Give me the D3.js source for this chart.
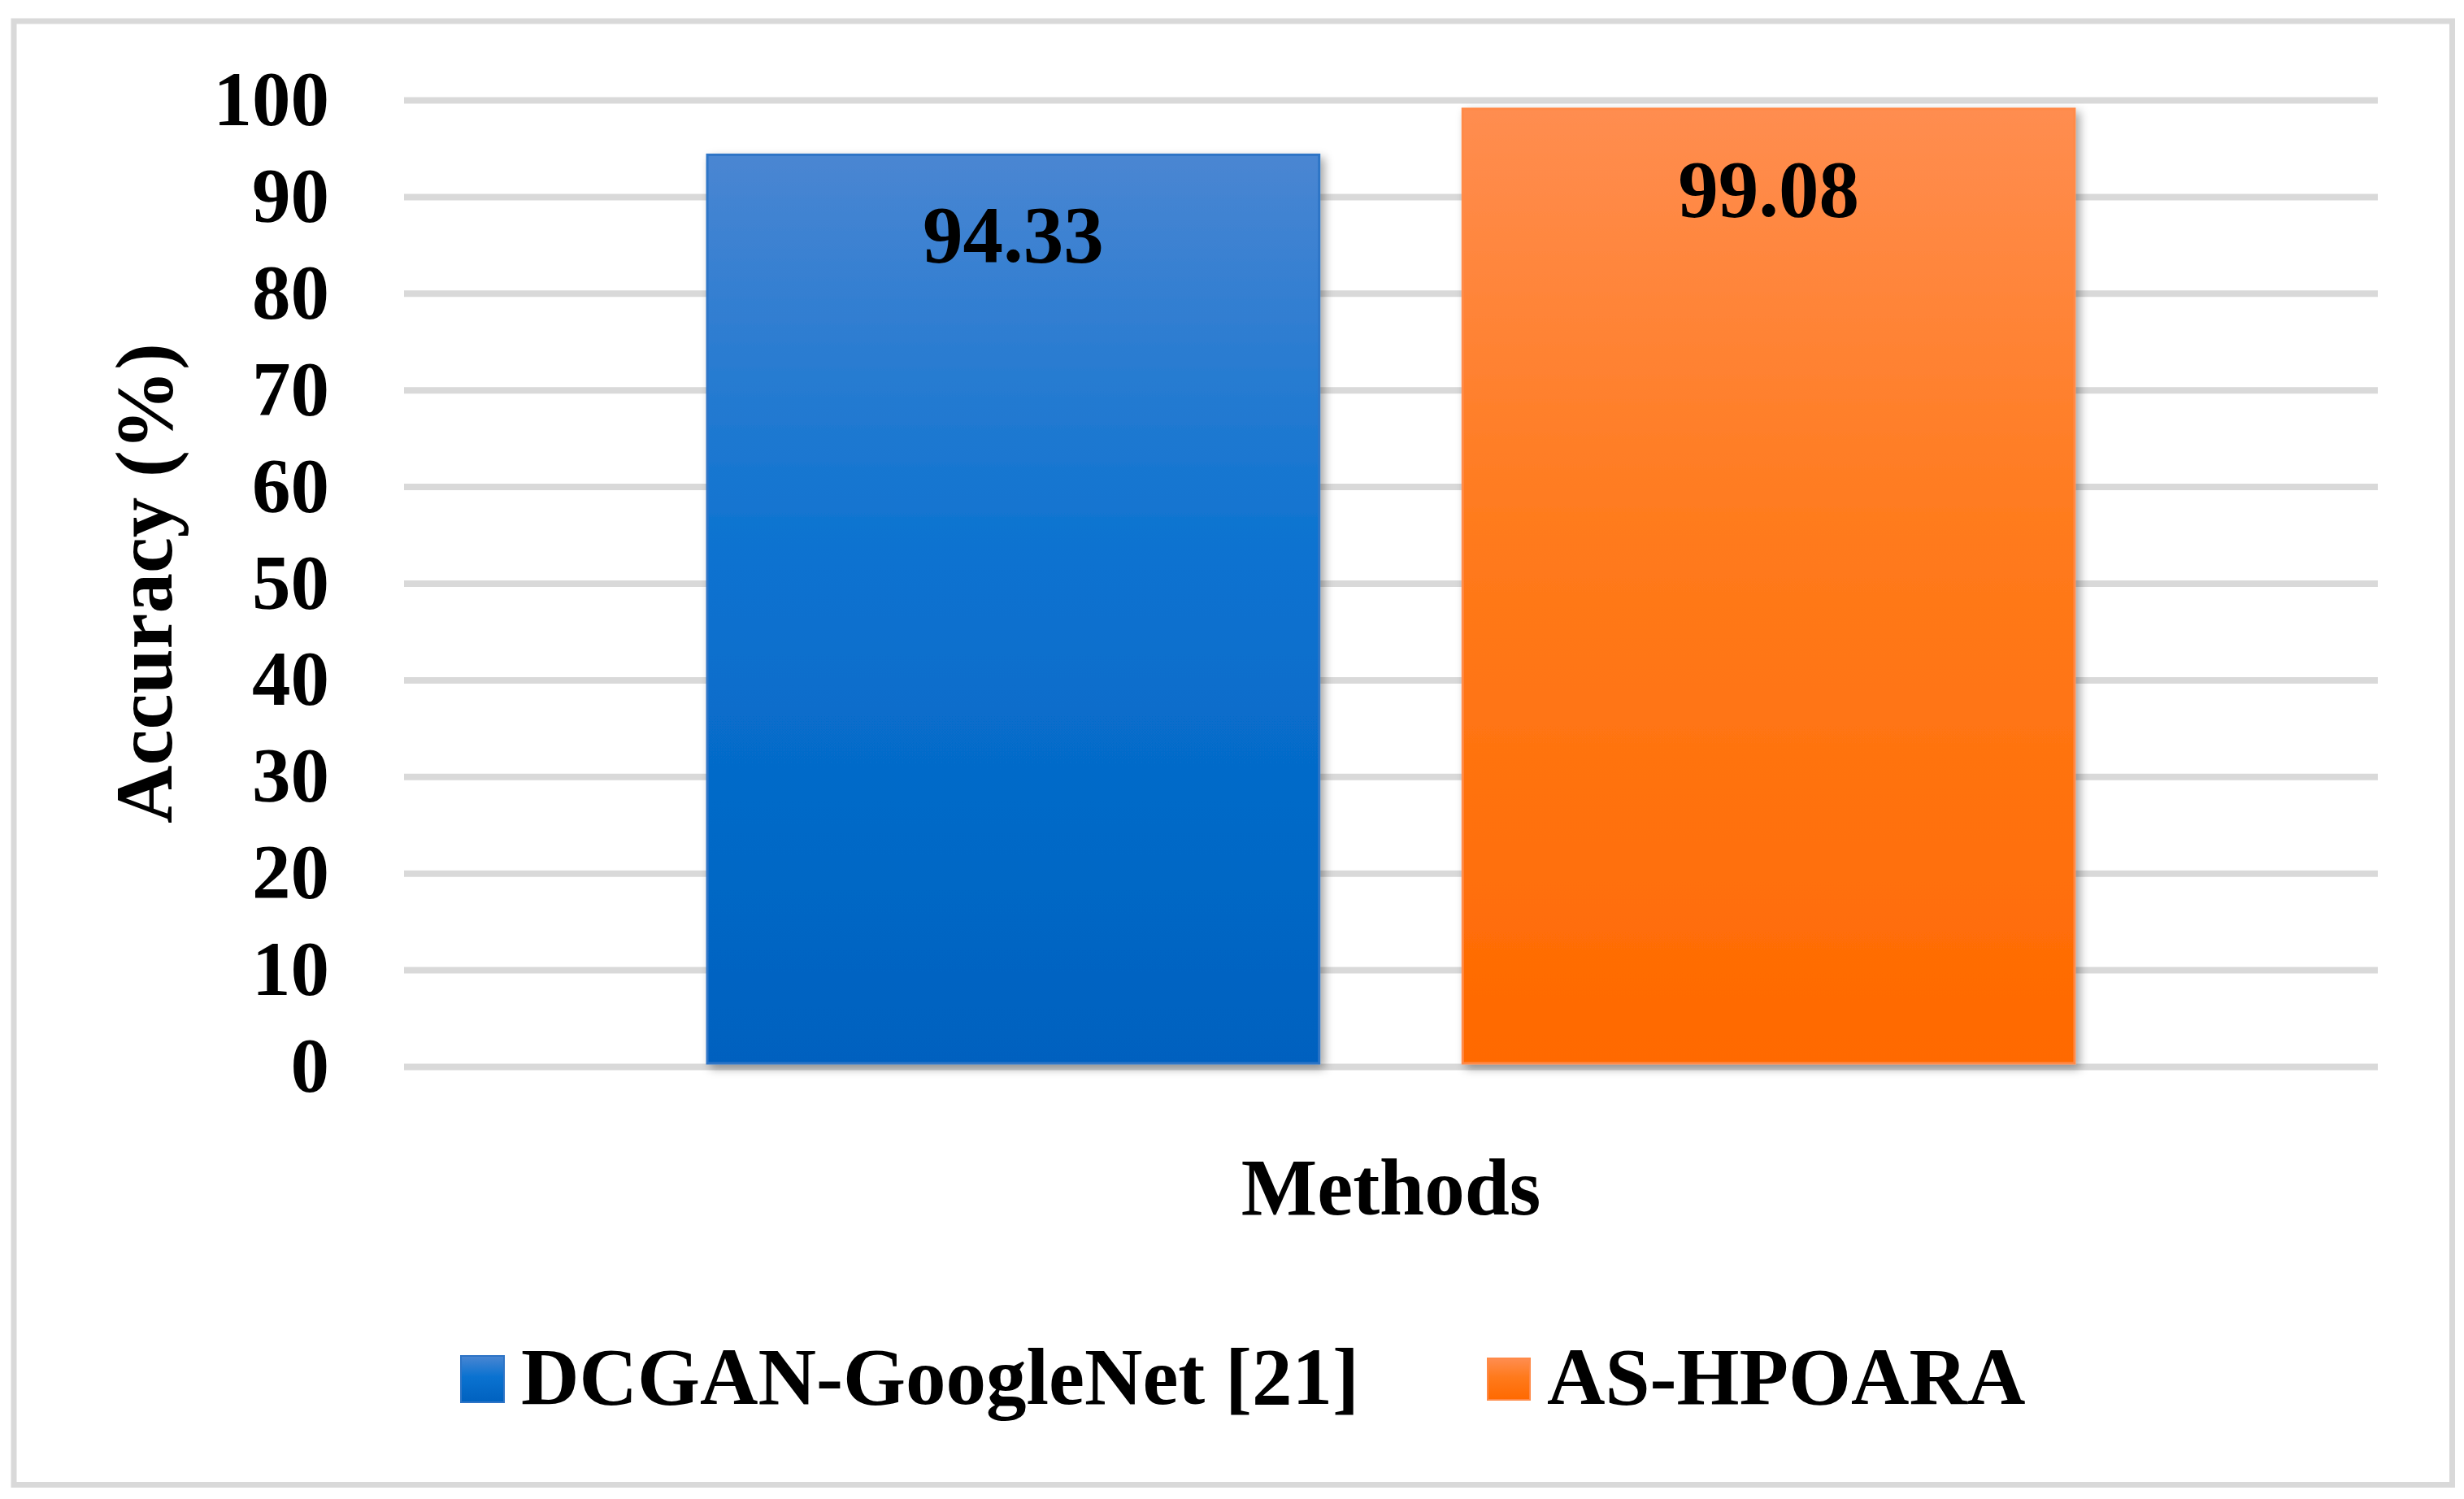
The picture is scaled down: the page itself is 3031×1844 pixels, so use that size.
<!DOCTYPE html>
<html>
<head>
<meta charset="utf-8">
<script src="https://cdn.jsdelivr.net/npm/d3@7"></script>
<style>
  html, body { margin: 0; padding: 0; background: #ffffff; }
  svg { display: block; }
  text { font-family: "Liberation Serif", "Times New Roman", serif; font-weight: bold; fill: #000; }
</style>
</head>
<body>
<svg id="chart" width="3031" height="1844"></svg>
<script>
// ---- data ----
const categories = ["Methods"];
const seriesNames = ["DCGAN-GoogleNet [21]", "AS-HPOARA"];
const seriesValues = [94.33, 99.08];
const valueLabels = ["94.33", "99.08"];
const yTicks = [0, 10, 20, 30, 40, 50, 60, 70, 80, 90, 100];
const yTitle = "Accuracy (%)";
const xTitle = "Methods";

const svg = d3.select("#chart");
const W = 3031, H = 1844;
const plot = { left: 497, right: 2925, top: 123, bottom: 1312 };

// defs: gradients + shadow
const defs = svg.append("defs");
const grads = [
  { id: "gBlue", stops: [["0%", "#4a86d2"], ["45%", "#0a72d0"], ["100%", "#0061bf"]] },
  { id: "gOrange", stops: [["0%", "#ff8d50"], ["45%", "#ff7a1c"], ["100%", "#ff6900"]] }
];
grads.forEach(g => {
  const lg = defs.append("linearGradient").attr("id", g.id)
    .attr("x1", 0).attr("y1", 0).attr("x2", 0).attr("y2", 1);
  g.stops.forEach(s => lg.append("stop").attr("offset", s[0]).attr("stop-color", s[1]));
});
const f = defs.append("filter").attr("id", "shadow")
  .attr("x", "-10%").attr("y", "-10%").attr("width", "120%").attr("height", "120%");
f.append("feDropShadow").attr("dx", 5).attr("dy", 5).attr("stdDeviation", 6)
  .attr("flood-color", "#000").attr("flood-opacity", 0.35);

const fills = ["url(#gBlue)", "url(#gOrange)"];
const strokes = ["#2e74c6", "#ff8a48"];

// outer border
svg.append("rect").attr("x", 17).attr("y", 26).attr("width", 3016.5 - 17).attr("height", 1826.5 - 26)
  .attr("fill", "#fff").attr("stroke", "#d9d9d9").attr("stroke-width", 7);

// scales
const y = d3.scaleLinear().domain([0, 100]).range([plot.bottom, plot.top]);
const x0 = d3.scaleBand().domain(categories).range([plot.left, plot.right])
  .paddingInner(0).paddingOuter(0.2218);
const x1 = d3.scaleBand().domain(seriesNames).range([0, x0.bandwidth()])
  .paddingInner(0.19).paddingOuter(0);

// gridlines
const yAxis = d3.axisLeft(y).tickValues(yTicks).tickSize(-(plot.right - plot.left)).tickFormat("");
const ga = svg.append("g").attr("transform", `translate(${plot.left},0)`).call(yAxis);
ga.select(".domain").remove();
ga.selectAll(".tick line").attr("stroke", "#d9d9d9").attr("stroke-width", 8);

// tick labels
svg.append("g").selectAll("text").data(yTicks).join("text")
  .attr("x", 405).attr("y", d => y(d) + 31)
  .attr("text-anchor", "end").attr("font-size", 95)
  .text(d => d);

// bars
const gBars = svg.append("g");
seriesNames.forEach((s, i) => {
  const v = seriesValues[i];
  const bx = x0(categories[0]) + x1(s);
  gBars.append("rect")
    .attr("x", bx).attr("y", y(v))
    .attr("width", x1.bandwidth()).attr("height", y(0) - 4 - y(v))
    .attr("fill", fills[i]).attr("stroke", strokes[i]).attr("stroke-width", 3)
    .attr("filter", "url(#shadow)");
  svg.append("text")
    .attr("x", bx + x1.bandwidth() / 2).attr("y", y(v) + 132)
    .attr("text-anchor", "middle").attr("font-size", 99)
    .text(valueLabels[i]);
});

// axis titles
svg.append("text")
  .attr("transform", `translate(211,${(plot.top + plot.bottom) / 2}) rotate(-90)`)
  .attr("text-anchor", "middle").attr("font-size", 99).text(yTitle);
svg.append("text")
  .attr("x", (plot.left + plot.right) / 2).attr("y", 1494)
  .attr("text-anchor", "middle").attr("font-size", 99).text(xTitle);

// legend
const legendItems = [
  { name: seriesNames[0], sx: 567, sy: 1668, sw: 53, sh: 57, tx: 641 },
  { name: seriesNames[1], sx: 1830, sy: 1671, sw: 52, sh: 51, tx: 1903 }
];
legendItems.forEach((it, i) => {
  svg.append("rect").attr("x", it.sx).attr("y", it.sy).attr("width", it.sw).attr("height", it.sh)
    .attr("fill", fills[i]).attr("stroke", strokes[i]).attr("stroke-width", 2);
  svg.append("text").attr("x", it.tx).attr("y", 1727).attr("font-size", 99).text(it.name);
});
</script>
</body>
</html>
